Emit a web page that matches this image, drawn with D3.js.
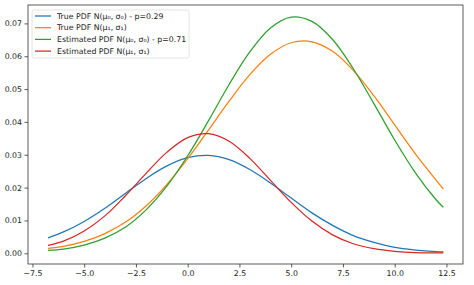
<!DOCTYPE html>
<html>
<head>
<meta charset="utf-8">
<script src="https://cdn.jsdelivr.net/npm/d3@7"></script>
<style>
  body { margin: 0; background: #fff; }
  text { font-family: "DejaVu Sans", sans-serif; fill: #222; }
</style>
</head>
<body>
<div id="chart"></div>
<script>
// sample points
const xs = [-6.75, -6, -5, -4, -3, -2, -1, 0, 1, 2, 3, 4, 5, 6, 7, 8, 9, 10, 11, 12, 12.35]
const trueP0 = [0.0047, 0.0065, 0.0097, 0.0137, 0.0183, 0.0228, 0.0266, 0.0291, 0.0298, 0.0285, 0.0255, 0.0214, 0.0168, 0.0123, 0.0085, 0.0054, 0.0033, 0.0018, 0.0010, 0.0005, 0.0004]
const trueP1 = [0.0015, 0.0021, 0.0036, 0.0060, 0.0095, 0.0145, 0.0210, 0.0288, 0.0375, 0.0463, 0.0544, 0.0606, 0.0641, 0.0644, 0.0615, 0.0557, 0.0479, 0.0391, 0.0303, 0.0223, 0.0196]
const estP0 = [0.0009, 0.0013, 0.0025, 0.0046, 0.0080, 0.0133, 0.0205, 0.0297, 0.0403, 0.0514, 0.0613, 0.0686, 0.0719, 0.0706, 0.0651, 0.0562, 0.0455, 0.0345, 0.0245, 0.0163, 0.0140]
const estP1 = [0.0024, 0.0037, 0.0068, 0.0114, 0.0176, 0.0244, 0.0308, 0.0352, 0.0364, 0.0341, 0.0289, 0.0222, 0.0155, 0.0098, 0.0056, 0.0029, 0.0014, 0.0006, 0.0002, 0.0001, 0.0001]
const labels = ["True PDF N(μ₀, σ₀) - p=0.29", "True PDF N(μ₁, σ₁)", "Estimated PDF N(μ₀, σ₀) - p=0.71", "Estimated PDF N(μ₁, σ₁)"]
const colors = ["#1f77b4", "#ff7f0e", "#2ca02c", "#d62728"]
const xTicks = [-7.5, -5, -2.5, 0, 2.5, 5, 7.5, 10, 12.5]
const yTicks = [0, 0.01, 0.02, 0.03, 0.04, 0.05, 0.06, 0.07]

const width = 474, height = 285
const plotL = 28, plotR = 463, plotT = 5, plotB = 264

let svg = d3.select("#chart")
    .append("svg")
    .attr("width", width)
    .attr("height", height)

let x = d3.scaleLinear().domain([-7.715, 13.3]).range([plotL, plotR])
let y = d3.scaleLinear().domain([-0.00326, 0.0756]).range([plotB, plotT])

let series = [trueP0, trueP1, estP0, estP1]

let line = d3.line()
    .x(d => x(d[0]))
    .y(d => y(d[1]))
    .curve(d3.curveCatmullRom)

series.forEach((vals, i) => {
    svg.append("path")
        .datum(xs.map((v, j) => [v, vals[j]]))
        .attr("d", line)
        .attr("fill", "none")
        .attr("stroke", colors[i])
        .attr("stroke-width", 1.25)
})

// axes
let xAxis = d3.axisBottom(x).tickValues(xTicks).tickSizeOuter(0).tickSize(3.5).tickPadding(2.5)
    .tickFormat(d => d3.format(".1f")(d).replace("-", "−"))
let yAxis = d3.axisLeft(y).tickValues(yTicks).tickFormat(d3.format(".2f")).tickSizeOuter(0).tickSize(3.5).tickPadding(2.5)

let gx = svg.append("g").attr("transform", `translate(0, ${plotB})`).call(xAxis)
let gy = svg.append("g").attr("transform", `translate(${plotL}, 0)`).call(yAxis)
gx.select(".domain").remove()
gy.select(".domain").remove()
svg.selectAll(".tick text").style("font-size", "7.8px").style("font-family", "DejaVu Sans").attr("fill", "#222")
svg.selectAll(".tick line").attr("stroke", "#333").attr("stroke-width", 0.8)

// frame
svg.append("rect")
    .attr("x", plotL).attr("y", plotT)
    .attr("width", plotR - plotL).attr("height", plotB - plotT)
    .attr("fill", "none").attr("stroke", "#333").attr("stroke-width", 0.8)

// legend
let lg = svg.append("g").attr("transform", "translate(32, 10)")
lg.append("rect")
    .attr("width", 157).attr("height", 48).attr("rx", 2)
    .attr("fill", "#fff").attr("fill-opacity", 0.8)
    .attr("stroke", "#ddd").attr("stroke-width", 0.8)
labels.forEach((t, i) => {
    let yy = 6 + i * 11.7
    lg.append("line")
        .attr("x1", 3).attr("x2", 19).attr("y1", yy).attr("y2", yy)
        .attr("stroke", colors[i]).attr("stroke-width", 1.25)
    lg.append("text")
        .attr("x", 25).attr("y", yy).attr("dy", "0.35em")
        .style("font-size", "7.8px")
        .text(t)
})
</script>
</body>
</html>
